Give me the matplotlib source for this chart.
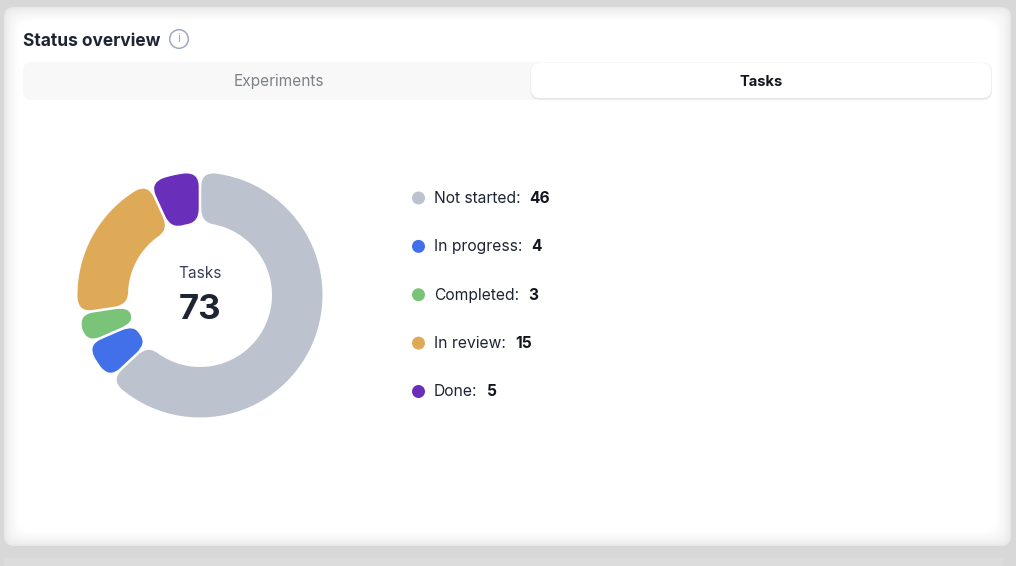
import numpy as np
import matplotlib
matplotlib.use("Agg")
import matplotlib.pyplot as plt
from matplotlib.patches import Circle, FancyBboxPatch, PathPatch
from matplotlib.path import Path

plt.rcParams["font.family"] = ["Inter", "DejaVu Sans"]

statuses = ["Not started", "In progress", "Completed", "In review", "Done"]
counts = [46, 4, 3, 15, 5]
status_colors = ["#bcc2ce", "#4270e8", "#7ac47a", "#dfaa57", "#692fbb"]
tab_names = ["Experiments", "Tasks"]
title = "Status overview"
center_label = "Tasks"

CX, CY = 200, 295
R_OUT, R_IN = 122.5, 72.0
GAP = 1.3
CORNER = 14.0


def pt(radius, ang):
    # ang is clockwise from 12 o'clock, y axis points down
    return (CX + radius * np.sin(ang), CY - radius * np.cos(ang))


def arc(radius, a0, a1):
    return [pt(radius, a) for a in np.linspace(a0, a1, 60)]


def slice_path(a0, a1):
    # edges are shifted by a constant GAP so the white seams stay parallel
    def start(radius):
        return a0 + np.arcsin(GAP / radius)

    def stop(radius):
        return a1 - np.arcsin(GAP / radius)

    # thin slices can't fit the full corner on the inner arc
    inner_len = (stop(R_IN) - start(R_IN)) * R_IN
    dr_out = CORNER / R_OUT
    dr_in = min(CORNER, 0.48 * inner_len) / R_IN
    radial = min(CORNER, (R_OUT - R_IN) / 2 - 1)
    verts = []
    codes = []

    outer = arc(R_OUT, start(R_OUT) + dr_out, stop(R_OUT) - dr_out)
    verts += outer
    codes += [Path.MOVETO] + [Path.LINETO] * (len(outer) - 1)

    verts += [pt(R_OUT, stop(R_OUT)), pt(R_OUT - radial, stop(R_OUT - radial))]
    codes += [Path.CURVE3, Path.CURVE3]
    verts.append(pt(R_IN + radial, stop(R_IN + radial)))
    codes.append(Path.LINETO)
    verts += [pt(R_IN, stop(R_IN)), pt(R_IN, stop(R_IN) - dr_in)]
    codes += [Path.CURVE3, Path.CURVE3]

    inner = arc(R_IN, stop(R_IN) - dr_in, start(R_IN) + dr_in)
    verts += inner[1:]
    codes += [Path.LINETO] * (len(inner) - 1)

    verts += [pt(R_IN, start(R_IN)), pt(R_IN + radial, start(R_IN + radial))]
    codes += [Path.CURVE3, Path.CURVE3]
    verts.append(pt(R_OUT - radial, start(R_OUT - radial)))
    codes.append(Path.LINETO)
    verts += [pt(R_OUT, start(R_OUT)), outer[0]]
    codes += [Path.CURVE3, Path.CURVE3]
    return Path(verts, codes)


def round_box(ax, x0, y0, x1, y1, rad, **kw):
    box = FancyBboxPatch((x0 + rad, y0 + rad), x1 - x0 - 2 * rad, y1 - y0 - 2 * rad,
                         boxstyle="round,pad=%f,rounding_size=%f" % (rad, rad), **kw)
    ax.add_patch(box)


fig = plt.figure(figsize=(10.16, 5.66), dpi=100, facecolor="#d8d8d8")
ax = fig.add_axes([0, 0, 1, 1])
ax.set_xlim(0, 1016)
ax.set_ylim(566, 0)
ax.axis("off")

# faint second card peeking out underneath
round_box(ax, 4, 540, 1003, 575, 10, fc="#dcdcdc", ec="none")
round_box(ax, 0, 530, 1016, 558, 0, fc="#d8d8d8", ec="none")

# card with a soft inset edge
n_steps = 16
for i in range(n_steps):
    level = 0.91 + (1.0 - 0.91) * (i / (n_steps - 1)) ** 0.7
    round_box(ax, 4 + i, 7 + i, 1011 - i, 546 - i, 10, fc=(level, level, level), ec="none")

# tab strip
round_box(ax, 23, 62, 992, 100, 9, fc="#f8f8f8", ec="none")
for i in range(3):
    round_box(ax, 531 - 1 + i * 0.5, 63, 992 - i * 0.5, 100.5 - i * 0.7, 9,
              fc="#000000", ec="none", alpha=0.025)
round_box(ax, 531, 63, 991, 98, 9, fc="white", ec="none")

ax.text(23, 41, title, fontsize=12.5, fontweight="bold", color="#1f2433", va="center", ha="left")
ax.add_patch(Circle((179, 39), 9.3, fc="none", ec="#9fa9c6", lw=1.1))
ax.text(179, 39.5, "i", fontsize=8.5, color="#a5a5ad", ha="center", va="center")

ax.text(278.5, 81.5, tab_names[0], fontsize=11.1, color="#7d8188", ha="center", va="center")
ax.text(761, 81.5, tab_names[1], fontsize=10.6, fontweight="bold", color="#14161f", ha="center", va="center")

# donut, clockwise from the top
edges = np.cumsum([0] + counts) / sum(counts) * 2 * np.pi
for k in range(len(counts)):
    ax.add_patch(PathPatch(slice_path(edges[k], edges[k + 1]), fc=status_colors[k], ec="none"))

ax.text(CX, 273, center_label, fontsize=11.1, color="#39415a", ha="center", va="center")
ax.text(CX, 310, str(sum(counts)), fontsize=25, fontweight="bold", color="#1f2433", ha="center", va="center")

# legend rows
legend_y = np.linspace(198, 391.5, len(statuses))
for name, count, col, y in zip(statuses, counts, status_colors, legend_y):
    ax.add_patch(Circle((418.5, y), 6.5, fc=col, ec="none"))
    lab = ax.text(434, y + 0.5, name + ":", fontsize=11.25, color="#1f2433", ha="left", va="center")
    ax.annotate(str(count), xy=(1, 0.5), xycoords=lab, xytext=(6.5, 0),
                textcoords="offset points", fontsize=11.2, fontweight="bold",
                color="#14161f", ha="left", va="center")

fig.savefig("out.png", dpi=100, facecolor=fig.get_facecolor())
